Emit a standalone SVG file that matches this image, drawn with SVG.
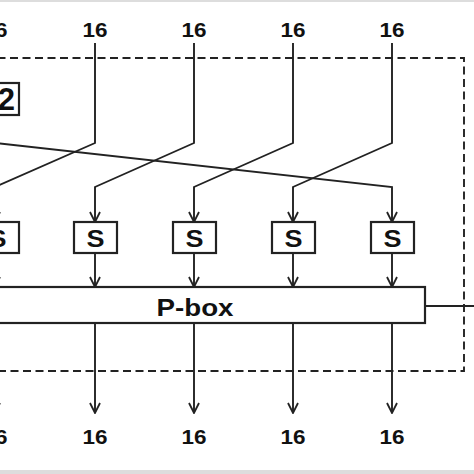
<svg xmlns="http://www.w3.org/2000/svg" width="474" height="474" viewBox="0 0 474 474">
<defs>
<style>
.lbl{font-family:"Liberation Sans",Arial,sans-serif;font-weight:bold;font-size:21px;fill:#111;text-anchor:middle}
.big{font-family:"Liberation Sans",Arial,sans-serif;font-weight:bold;font-size:23px;fill:#111;text-anchor:middle}
.box{fill:#fff;stroke:#222;stroke-width:2.2}
.ln{fill:none;stroke:#222;stroke-width:1.9}
.dash{fill:none;stroke:#222;stroke-width:1.9;stroke-dasharray:8 4.5}
</style>
<marker id="arr" viewBox="0 0 12 12" refX="11" refY="6" markerWidth="12" markerHeight="12" markerUnits="userSpaceOnUse" orient="auto">
<path d="M1,1 L11,6 L1,11" fill="none" stroke="#222" stroke-width="1.8"/>
</marker>
</defs>
<rect x="0" y="0" width="474" height="474" fill="#fff"/>
<rect x="0" y="0" width="474" height="2" fill="#ddd"/>
<rect x="0" y="470" width="474" height="4" fill="#ddd"/>
<rect class="dash" x="-40" y="58" width="504" height="313"/>
<g id="connectors">
<polyline class="ln" points="-5,43 -5,143 392,187 392,222" marker-end="url(#arr)"/>
<polyline class="ln" points="95,43 95,143 -5,187 -5,222" marker-end="url(#arr)"/>
<polyline class="ln" points="194,43 194,143 95,187 95,222" marker-end="url(#arr)"/>
<polyline class="ln" points="293,43 293,143 194,187 194,222" marker-end="url(#arr)"/>
<polyline class="ln" points="392,43 392,143 293,187 293,222" marker-end="url(#arr)"/>
<line class="ln" x1="-5" y1="253" x2="-5" y2="287" marker-end="url(#arr)"/>
<line class="ln" x1="95" y1="253" x2="95" y2="287" marker-end="url(#arr)"/>
<line class="ln" x1="194" y1="253" x2="194" y2="287" marker-end="url(#arr)"/>
<line class="ln" x1="293" y1="253" x2="293" y2="287" marker-end="url(#arr)"/>
<line class="ln" x1="392" y1="253" x2="392" y2="287" marker-end="url(#arr)"/>
<line class="ln" x1="-5" y1="323" x2="-5" y2="413" marker-end="url(#arr)"/>
<line class="ln" x1="95" y1="323" x2="95" y2="413" marker-end="url(#arr)"/>
<line class="ln" x1="194" y1="323" x2="194" y2="413" marker-end="url(#arr)"/>
<line class="ln" x1="293" y1="323" x2="293" y2="413" marker-end="url(#arr)"/>
<line class="ln" x1="392" y1="323" x2="392" y2="413" marker-end="url(#arr)"/>
<line class="ln" x1="425" y1="306" x2="474" y2="306"/>
</g>
<g id="labels-in">
<text class="lbl" x="-5" y="37" textLength="25" lengthAdjust="spacingAndGlyphs">16</text>
<text class="lbl" x="95" y="37" textLength="25" lengthAdjust="spacingAndGlyphs">16</text>
<text class="lbl" x="194" y="37" textLength="25" lengthAdjust="spacingAndGlyphs">16</text>
<text class="lbl" x="293" y="37" textLength="25" lengthAdjust="spacingAndGlyphs">16</text>
<text class="lbl" x="392" y="37" textLength="25" lengthAdjust="spacingAndGlyphs">16</text>
</g>
<g id="key">
<rect class="box" x="-40" y="83" width="59" height="32"/>
<text class="big" x="15" y="110" style="font-size:31px;text-anchor:end">2</text>
</g>
<g id="s0"><rect class="box" x="-24" y="222" width="43" height="31"/><text class="big" x="-2.5" y="247" textLength="18" lengthAdjust="spacingAndGlyphs">S</text></g>
<g id="s1"><rect class="box" x="74" y="222" width="43" height="31"/><text class="big" x="95.5" y="247" textLength="18" lengthAdjust="spacingAndGlyphs">S</text></g>
<g id="s2"><rect class="box" x="173" y="222" width="43" height="31"/><text class="big" x="194.5" y="247" textLength="18" lengthAdjust="spacingAndGlyphs">S</text></g>
<g id="s3"><rect class="box" x="272" y="222" width="43" height="31"/><text class="big" x="293.5" y="247" textLength="18" lengthAdjust="spacingAndGlyphs">S</text></g>
<g id="s4"><rect class="box" x="371" y="222" width="43" height="31"/><text class="big" x="392.5" y="247" textLength="18" lengthAdjust="spacingAndGlyphs">S</text></g>
<g id="pbox"><rect class="box" x="-40" y="287" width="465" height="36"/><text class="big" x="195" y="316" textLength="77" lengthAdjust="spacingAndGlyphs">P-box</text></g>
<g id="labels-out">
<text class="lbl" x="-5" y="444" textLength="25" lengthAdjust="spacingAndGlyphs">16</text>
<text class="lbl" x="95" y="444" textLength="25" lengthAdjust="spacingAndGlyphs">16</text>
<text class="lbl" x="194" y="444" textLength="25" lengthAdjust="spacingAndGlyphs">16</text>
<text class="lbl" x="293" y="444" textLength="25" lengthAdjust="spacingAndGlyphs">16</text>
<text class="lbl" x="392" y="444" textLength="25" lengthAdjust="spacingAndGlyphs">16</text>
</g>
</svg>
